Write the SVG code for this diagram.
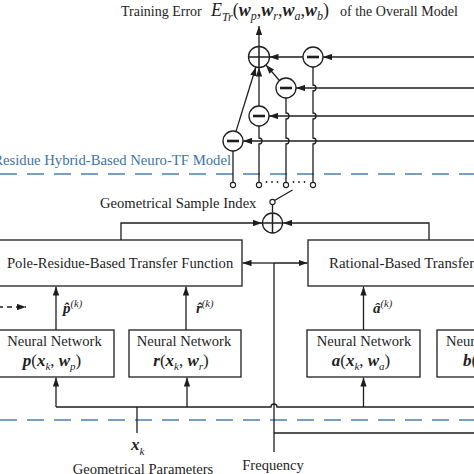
<svg xmlns="http://www.w3.org/2000/svg" width="474" height="474" viewBox="0 0 474 474">
<defs>
<marker id="arr" viewBox="0 0 10 7" refX="10" refY="3.5" markerWidth="9" markerHeight="6.5" markerUnits="userSpaceOnUse" orient="auto"><path d="M0,0 L10,3.5 L0,7 z" fill="#1e1e1e"/></marker>
</defs>
<style>
.ln{stroke:#1e1e1e;stroke-width:1.3;fill:none}
.box{fill:#fff;stroke:#1e1e1e;stroke-width:1.3}
.t{font-family:"Liberation Serif","Times New Roman",serif;font-size:14.6px;fill:#1e1e1e}
.m{font-family:"Liberation Serif","Times New Roman",serif;font-size:17px;font-style:italic;font-weight:bold;fill:#1e1e1e}
.r{font-style:normal;font-weight:normal}
.sub{font-size:11px;font-weight:normal;font-style:italic}
.blue{fill:#3d74a6}
.dash{stroke:#4a80b0;stroke-width:1.6;stroke-dasharray:17 10;fill:none}
.circ{fill:#fff;stroke:#1e1e1e;stroke-width:1.3}
.bar{stroke:#1e1e1e;stroke-width:2.6}
.cross{stroke:#1e1e1e;stroke-width:1.5}
.term{fill:#fff;stroke:#1e1e1e;stroke-width:1.1}
</style>
<rect width="474" height="474" fill="#fff"/>

<g id="title">
<text class="t" x="121" y="15.5" style="font-size:14px">Training Error</text>
<text class="m" x="211" y="15.5" style="font-weight:normal;font-size:18px">E<tspan class="sub" dy="5" style="font-size:12px">Tr</tspan><tspan class="r" dy="-5">(</tspan><tspan style="font-weight:bold">w</tspan><tspan class="sub" dy="4" style="font-size:12px">p</tspan><tspan class="r" dy="-4">,</tspan><tspan style="font-weight:bold">w</tspan><tspan class="sub" dy="4" style="font-size:12px">r</tspan><tspan class="r" dy="-4">,</tspan><tspan style="font-weight:bold">w</tspan><tspan class="sub" dy="4" style="font-size:12px">a</tspan><tspan class="r" dy="-4">,</tspan><tspan style="font-weight:bold">w</tspan><tspan class="sub" dy="4" style="font-size:12px">b</tspan><tspan class="r" dy="-4">)</tspan></text>
<text class="t" x="340" y="15.5" style="font-size:14px">of the Overall Model</text>
</g>

<g id="boundaries">
<path class="dash" d="M0,174 H474"/>
<path class="dash" d="M0,420 H474"/>
<text class="t blue" x="231" y="165" text-anchor="end" style="font-size:14.7px">Residue Hybrid-Based Neuro-TF Model</text>
</g>

<g id="connectors">
<path class="ln" d="M259,46.5 V26" marker-end="url(#arr)"/>
<path class="ln" d="M474,57 H323" marker-end="url(#arr)"/>
<path class="ln" d="M303,57 H269.5" marker-end="url(#arr)"/>
<path class="ln" d="M474,88 H296" marker-end="url(#arr)"/>
<path class="ln" d="M474,116 H269" marker-end="url(#arr)"/>
<path class="ln" d="M474,141 H243" marker-end="url(#arr)"/>
<path class="ln" d="M279.4,80.5 L265.9,64.9" marker-end="url(#arr)"/>
<path class="ln" d="M259,106 V67.5" marker-end="url(#arr)"/>
<path class="ln" d="M236,131.4 L255.9,67" marker-end="url(#arr)"/>
<path class="ln" d="M313,67 V85 a3,3 0 0 1 0,6 V113 a3,3 0 0 1 0,6 V138 a3,3 0 0 1 0,6 V182.5"/>
<path class="ln" d="M286,98 V113 a3,3 0 0 1 0,6 V138 a3,3 0 0 1 0,6 V182.5"/>
<path class="ln" d="M259,126 V138 a3,3 0 0 1 0,6 V182.5"/>
<path class="ln" d="M233,151 V182.5"/>
<path class="ln" d="M274.5,200.5 L292.5,190"/>
<path class="ln" d="M272.5,204.5 V212.5"/>
<path class="ln" d="M121,240 V223 H262" marker-end="url(#arr)"/>
<path class="ln" d="M429,240 V223 H283" marker-end="url(#arr)"/>
<path class="ln" d="M274,263 H242.5" marker-end="url(#arr)"/>
<path class="ln" d="M274,263 H307.5" marker-end="url(#arr)"/>
<path class="ln" d="M274,263 V452"/>
<path class="ln" d="M274,433 H474"/>
<path class="ln" d="M56,330 V286.5" marker-end="url(#arr)"/>
<path class="ln" d="M186,330 V286.5" marker-end="url(#arr)"/>
<path class="ln" d="M363.5,330 V286.5" marker-end="url(#arr)"/>
<path class="ln" d="M-2,307 H26" style="stroke-dasharray:5 4" marker-end="url(#arr)"/>
<path class="ln" d="M56,407 H271 a3,3 0 0 1 6,0 H474"/>
<path class="ln" d="M137,407 V433"/>
<path class="ln" d="M56,407 V377.5" marker-end="url(#arr)"/>
<path class="ln" d="M187,407 V377.5" marker-end="url(#arr)"/>
<path class="ln" d="M363.5,407 V377.5" marker-end="url(#arr)"/>
</g>

<g id="sum-total">
<circle class="circ" cx="259" cy="57" r="10.5"/>
<path class="cross" d="M248.5,57 H269.5 M259,46.5 V67.5"/>
</g>
<g id="minus-1"><circle class="circ" cx="313" cy="57" r="10"/><path class="bar" d="M307,57 H319"/></g>
<g id="minus-2"><circle class="circ" cx="286" cy="88" r="10"/><path class="bar" d="M280,88 H292"/></g>
<g id="minus-3"><circle class="circ" cx="259" cy="116" r="10"/><path class="bar" d="M253,116 H265"/></g>
<g id="minus-4"><circle class="circ" cx="233" cy="141" r="10"/><path class="bar" d="M227,141 H239"/></g>

<g id="sample-terminals">
<circle class="term" cx="233" cy="185" r="2.6"/>
<circle class="term" cx="259" cy="185" r="2.6"/>
<circle class="term" cx="286" cy="185" r="2.6"/>
<circle class="term" cx="313" cy="185" r="2.6"/>
<g fill="#1e1e1e">
<circle cx="266.5" cy="182" r="0.9"/><circle cx="272" cy="182" r="0.9"/><circle cx="277.5" cy="182" r="0.9"/>
<circle cx="293.5" cy="182" r="0.9"/><circle cx="299" cy="182" r="0.9"/><circle cx="304.5" cy="182" r="0.9"/>
</g>
</g>

<g id="sample-switch">
<text class="t" x="100" y="207.5">Geometrical Sample Index</text>
<circle class="term" cx="272.5" cy="202" r="2.6"/>
</g>

<g id="sum-sample">
<circle class="circ" cx="272.5" cy="223" r="10"/>
<path class="cross" d="M262.5,223 H282.5 M272.5,213 V233"/>
</g>

<g id="pole-residue-tf">
<rect class="box" x="-5" y="240" width="247" height="46"/>
<text class="t" x="7" y="267.5">Pole-Residue-Based Transfer Function</text>
</g>

<g id="rational-tf">
<rect class="box" x="308" y="240" width="200" height="46"/>
<text class="t" x="329" y="267.5" style="font-size:14.9px">Rational-Based Transfer</text>
</g>

<g id="label-p"><text class="m" x="63" y="313" style="font-size:15px">p&#x302;<tspan class="sub" dy="-6" style="font-size:10.5px">(k)</tspan></text></g>
<g id="label-r"><text class="m" x="196" y="313" style="font-size:15px">r&#x302;<tspan class="sub" dy="-6" style="font-size:10.5px">(k)</tspan></text></g>
<g id="label-a"><text class="m" x="373" y="313" style="font-size:15px">a&#x302;<tspan class="sub" dy="-6" style="font-size:10.5px">(k)</tspan></text></g>

<g id="nn-p">
<rect class="box" x="-5" y="330" width="119" height="47"/>
<text class="t" x="54.5" y="346" text-anchor="middle">Neural Network</text>
<text class="m" x="52" y="366" text-anchor="middle">p<tspan class="r">(</tspan>x<tspan class="sub" dy="4">k</tspan><tspan class="r" dy="-4">, </tspan>w<tspan class="sub" dy="4">p</tspan><tspan class="r" dy="-4">)</tspan></text>
</g>
<g id="nn-r">
<rect class="box" x="129" y="330" width="112" height="47"/>
<text class="t" x="184" y="346" text-anchor="middle">Neural Network</text>
<text class="m" x="181" y="366" text-anchor="middle">r<tspan class="r">(</tspan>x<tspan class="sub" dy="4">k</tspan><tspan class="r" dy="-4">, </tspan>w<tspan class="sub" dy="4">r</tspan><tspan class="r" dy="-4">)</tspan></text>
</g>
<g id="nn-a">
<rect class="box" x="307" y="330" width="113" height="47"/>
<text class="t" x="364" y="346" text-anchor="middle">Neural Network</text>
<text class="m" x="361" y="366" text-anchor="middle">a<tspan class="r">(</tspan>x<tspan class="sub" dy="4">k</tspan><tspan class="r" dy="-4">, </tspan>w<tspan class="sub" dy="4">a</tspan><tspan class="r" dy="-4">)</tspan></text>
</g>
<g id="nn-b">
<rect class="box" x="437" y="330" width="120" height="47"/>
<text class="t" x="446" y="346">Neural Network</text>
<text class="m" x="463" y="366">b<tspan class="r">(</tspan>x<tspan class="sub" dy="4">k</tspan><tspan class="r" dy="-4">, </tspan>w<tspan class="sub" dy="4">b</tspan><tspan class="r" dy="-4">)</tspan></text>
</g>

<g id="inputs">
<text class="m" x="131" y="450">x<tspan class="sub" dy="5">k</tspan></text>
<text class="t" x="143" y="473.5" text-anchor="middle">Geometrical Parameters</text>
<text class="t" x="273" y="470" text-anchor="middle">Frequency</text>
</g>
</svg>
